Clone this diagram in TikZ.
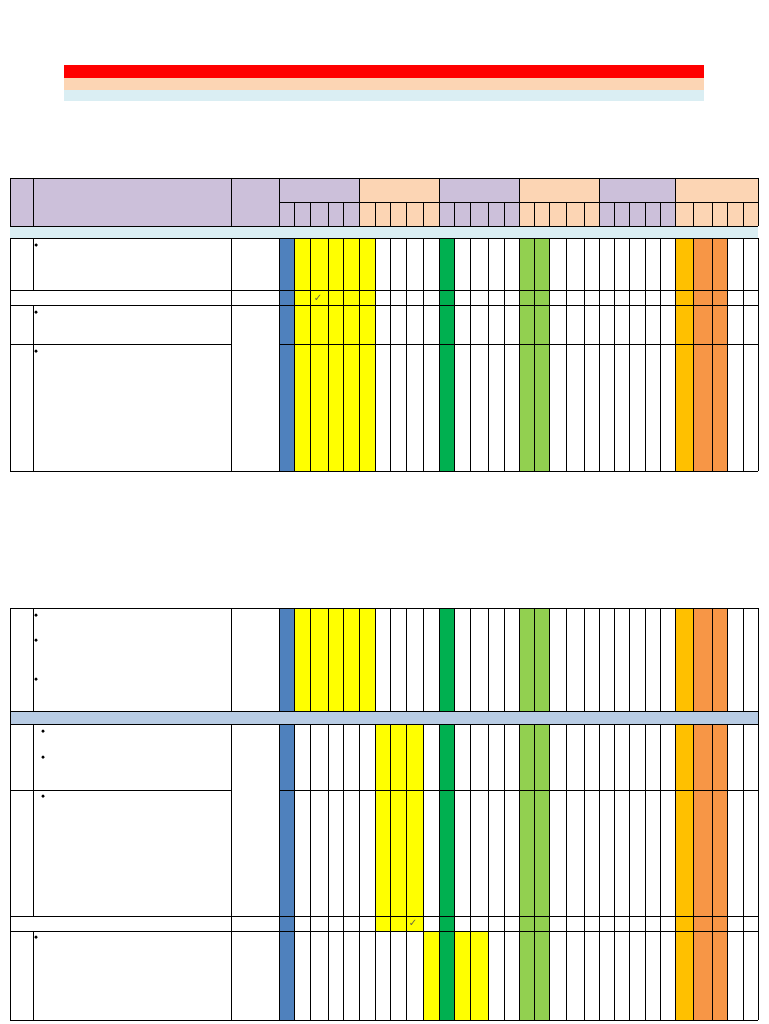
\documentclass[tikz,border=0pt]{standalone}
\usepackage{fontspec}
\setmainfont{DejaVu Sans}
\begin{document}
\begin{tikzpicture}[x=1pt,y=-1pt,line width=0.8pt]
\definecolor{cpur}{HTML}{CCC0DA}
\definecolor{cpea}{HTML}{FCD5B4}
\definecolor{clb}{HTML}{DAEEF3}
\definecolor{cblue}{HTML}{4F81BD}
\definecolor{cyel}{HTML}{FFFF00}
\definecolor{cgrn}{HTML}{00B050}
\definecolor{clg}{HTML}{92D050}
\definecolor{cor1}{HTML}{FFC000}
\definecolor{cor2}{HTML}{F79646}
\definecolor{cbg}{HTML}{B8CCE4}
\tikzset{bul/.style={circle,fill=black,inner sep=0pt,minimum size=3.5pt},
 chk/.style={text=black!70!yellow,font=\normalsize,inner sep=0pt}}
\useasboundingbox (0,0) rectangle (768,1024);
\fill[white] (0,0) rectangle (768,1024);
% banners
\fill[red] (64,65) rectangle (704,78);
\fill[cpea] (64,78) rectangle (704,90);
\fill[clb] (64,90) rectangle (704,101);
\def\cols{279,294,310,328,343,359,375,390,406,423,439,454,470,488,504,519,534,549,566,584,599,614,629,645,660,675,693,712,727,743,758}
% header fills
\fill[cpur] (10,178) rectangle (279,226);
\foreach \a/\b/\c in {279/359/cpur,359/439/cpea,439/519/cpur,519/599/cpea,599/675/cpur,675/758/cpea}
  \fill[\c] (\a,178) rectangle (\b,226);
\fill[clb] (10,226) rectangle (758,238);
\fill[cbg] (10,711) rectangle (758,724);
% table 1 body fills
\foreach \ya/\yb in {238/471,608/711}{
 \fill[cblue] (279,\ya) rectangle (294,\yb);
 \fill[cyel] (294,\ya) rectangle (375,\yb);
 \fill[cgrn] (439,\ya) rectangle (454,\yb);
 \fill[clg] (519,\ya) rectangle (549,\yb);
 \fill[cor1] (675,\ya) rectangle (693,\yb);
 \fill[cor2] (693,\ya) rectangle (727,\yb);
}
\fill[cblue] (279,724) rectangle (294,1020);
\fill[cyel] (375,724) rectangle (423,931);
\fill[cyel] (423,931) rectangle (439,1020);
\fill[cyel] (454,931) rectangle (488,1020);
\fill[cgrn] (439,724) rectangle (454,1020);
\fill[clg] (519,724) rectangle (549,1020);
\fill[cor1] (675,724) rectangle (693,1020);
\fill[cor2] (693,724) rectangle (727,1020);
% table 1 lines
\foreach \y in {178,226,238,290,305,471} \draw (10,\y) -- (758,\y);
\draw (279,202) -- (758,202);
\draw (10,344) -- (231,344); \draw (279,344) -- (758,344);
\foreach \x in {10,33,231,279,359,439,519,599,675,758} \draw (\x,178) -- (\x,226);
\foreach \x in \cols \draw (\x,202) -- (\x,226);
\foreach \x in {10,231} \draw (\x,238) -- (\x,471);
\foreach \x in \cols \draw (\x,238) -- (\x,471);
\draw (33,238) -- (33,290); \draw (33,305) -- (33,471);
% table 2 lines
\foreach \y in {608,711,724,916,931,1020} \draw (10,\y) -- (758,\y);
\draw (10,790) -- (231,790); \draw (279,790) -- (758,790);
\foreach \x in {10,758} \draw (\x,608) -- (\x,1020);
\foreach \x in \cols {\draw (\x,608) -- (\x,711); \draw (\x,724) -- (\x,1020);}
\draw (231,608) -- (231,711); \draw (231,724) -- (231,1020);
\draw (33,608) -- (33,711); \draw (33,724) -- (33,916); \draw (33,931) -- (33,1020);
% bullets
\foreach \x/\y [count=\i] in {36/245,36/312,36/351,36/615,36/640,36/679,43/731,43/757,43/796,36/937}
  \node[bul] (b\i) at (\x,\y) {};
\node[chk] (c1) at (318,298) {✓};
\node[chk] (c2) at (413,923) {✓};
\end{tikzpicture}
\end{document}
